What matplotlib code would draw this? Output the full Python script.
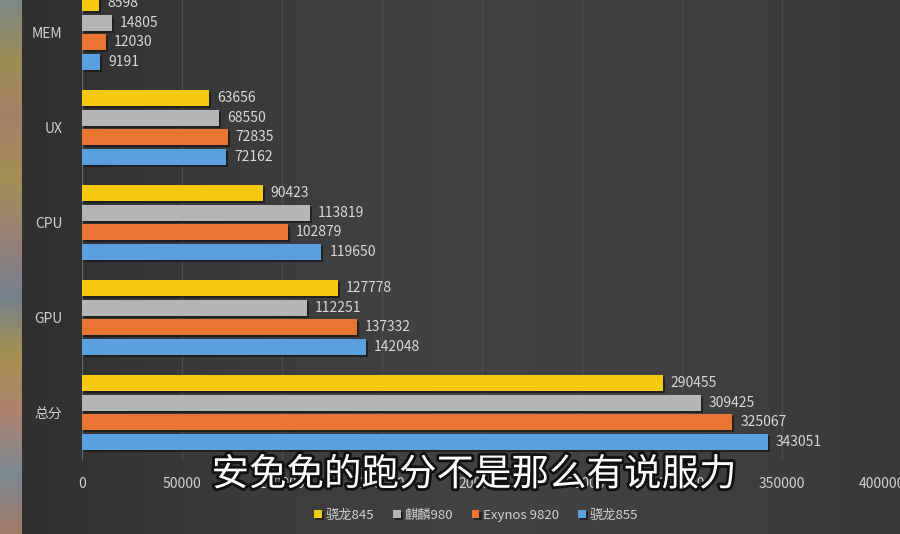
import numpy as np
import matplotlib
matplotlib.use('Agg')
import matplotlib.pyplot as plt
import matplotlib.patheffects as pe
from matplotlib.colors import LinearSegmentedColormap

plt.rcParams['font.family'] = ['Noto Sans CJK SC', 'DejaVu Sans']

# data (top -> bottom within each group)
categories = ['总分', 'GPU', 'CPU', 'UX', 'MEM']
series_names = ['骁龙845', '麒麟980', 'Exynos 9820', '骁龙855']
sd845 = [290455, 127778, 90423, 63656, 8598]
kirin980 = [309425, 112251, 113819, 68550, 14805]
exynos9820 = [325067, 137332, 102879, 72835, 12030]
sd855 = [343051, 142048, 119650, 72162, 9191]
series = [sd845, kirin980, exynos9820, sd855]
colors = ['#f4c90f', '#b5b5b5', '#ea7431', '#5ba0de']
x_ticks = [0, 50000, 100000, 150000, 200000, 250000, 300000, 350000, 400000]
subtitle = '安免免的跑分不是那么有说服力'

W, H = 900, 534
fig = plt.figure(figsize=(9, 5.34), dpi=100)
fig.patch.set_facecolor('#363636')

# blurred video edge on the left
strip = fig.add_axes([0, 0, 22 / W, 1])
strip_cmap = LinearSegmentedColormap.from_list('strip', [
    '#7d8a86', '#9c8c55', '#a68068', '#a38f55', '#9a8078', '#74828c',
    '#a69052', '#ad8270', '#7c8a92', '#a27c6a'])
strip.imshow(np.linspace(0, 1, 200).reshape(-1, 1), aspect='auto', cmap=strip_cmap)
strip.axis('off')

# dark panel gradient
panel = fig.add_axes([22 / W, 0, 1 - 22 / W, 1])
panel_cmap = LinearSegmentedColormap.from_list('panel', ['#303030', '#3b3b3b', '#434343', '#404040', '#393939'])
panel.imshow(np.linspace(0, 1, 300).reshape(1, -1), aspect='auto', cmap=panel_cmap)
panel.axis('off')

ax = fig.add_axes([82 / W, (H - 460) / H, 800 / W, 475 / H])
ax.set_facecolor('none')

y = np.arange(len(categories))
d = 0.207
offsets = [1.5 * d, 0.5 * d, -0.5 * d, -1.5 * d]
shadow = [pe.SimplePatchShadow(offset=(1.5, -1.5), shadow_rgbFace='#1a1a1a', alpha=0.8), pe.Normal()]
for vals, off, c, name in zip(series, offsets, colors, series_names):
    bars = ax.barh(y + off, vals, height=0.17, color=c, label=name, zorder=3)
    for b in bars:
        b.set_path_effects(shadow)
    for yy, v in zip(y + off, vals):
        ax.text(v + 4000, yy, str(v), color='#d8d8d8', fontsize=10, va='center', ha='left', zorder=4)

ax.set_xlim(0, 400000)
ax.set_ylim(-0.5, 4.5)
ax.set_xticks(x_ticks)
ax.set_xticklabels([str(t) for t in x_ticks])
ax.set_yticks(y)
ax.set_yticklabels(categories)
ax.tick_params(axis='both', length=0, colors='#d0d0d0', labelsize=10)
ax.tick_params(axis='x', pad=12)
ax.tick_params(axis='y', pad=14)
ax.grid(axis='x', color='#4c4c4c', linewidth=1, zorder=0)
for s in ['top', 'right', 'bottom']:
    ax.spines[s].set_visible(False)
ax.spines['left'].set_color('#5e5e5e')

handles, labels = ax.get_legend_handles_labels()
leg = fig.legend(handles, labels, loc='center', bbox_to_anchor=(476 / W, 1 - 515 / H), ncol=4,
                 frameon=False, fontsize=9.5, labelcolor='#cfcfcf', handlelength=0.6, handleheight=0.6,
                 handletextpad=0.3, columnspacing=1.4)

fig.text(474 / W, 1 - 475 / H, subtitle, color='white', fontsize=27, ha='center', va='center',
         path_effects=[pe.withStroke(linewidth=4, foreground='#111111')])

fig.savefig('out.png', dpi=100, facecolor=fig.get_facecolor())
